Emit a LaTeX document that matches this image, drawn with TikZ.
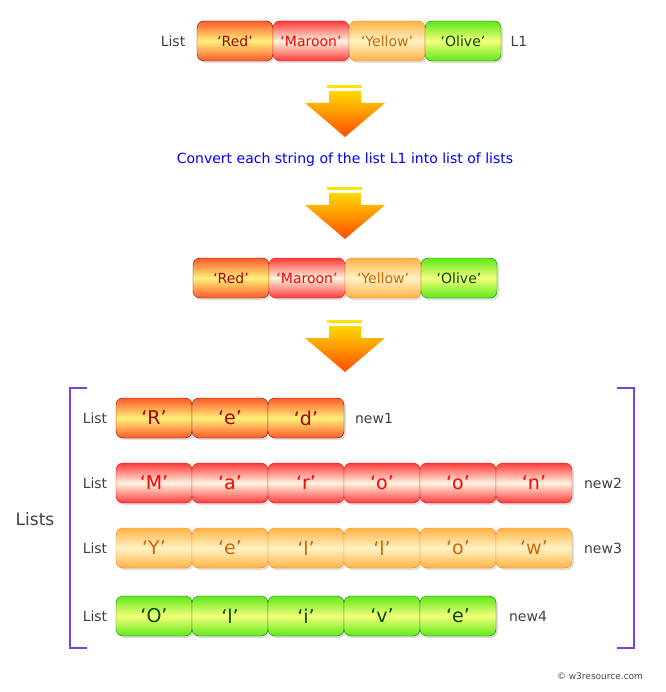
\documentclass[tikz,border=0pt]{standalone}
\usepackage{fontspec}
\setmainfont{DejaVu Sans}
\usetikzlibrary{shadows}
\definecolor{rtop}{HTML}{FF5A2A}
\definecolor{rmid}{HTML}{FFF07A}
\definecolor{mtop}{HTML}{FF3A3A}
\definecolor{mmid}{HTML}{FFF4E0}
\definecolor{ytop}{HTML}{FFB347}
\definecolor{ymid}{HTML}{FFF2C4}
\definecolor{gtop}{HTML}{5EE81A}
\definecolor{gmid}{HTML}{F4FF7A}
\definecolor{brc}{HTML}{7B3FE4}
\begin{document}
\begin{tikzpicture}[x=1pt,y=-1pt,
 cell/.style={rounded corners=7pt,minimum width=76pt,minimum height=40pt,inner sep=0pt,
   font=\fontsize{14}{14}\selectfont, drop shadow={opacity=0.25,shadow xshift=2pt,shadow yshift=-2pt}},
 big/.style={font=\fontsize{19}{19}\selectfont},
 red/.style={cell,draw=red!55!black,text=red!65!black,top color=rtop,bottom color=rtop,middle color=rmid},
 mar/.style={cell,draw=red,text=red,top color=mtop,bottom color=mtop,middle color=mmid},
 yel/.style={cell,draw=orange,text=orange!80!black,top color=ytop,bottom color=ytop,middle color=ymid},
 oli/.style={cell,draw=green!50!black,text=green!30!black,top color=gtop,bottom color=gtop,middle color=gmid},
 lbl/.style={text=black!75,font=\fontsize{14}{14}\selectfont,inner sep=0pt},
 br/.style={draw=brc,line width=1.5pt}]
\useasboundingbox (0,0) rectangle (665,692);
\newcommand{\arr}[2]{%
 \fill[yellow!85!orange] (#1-18,#2+2) rectangle (#1+17,#2+5);
 \shade[top color=yellow!70!orange,bottom color=orange!60!red] (#1-16,#2+8) -- (#1+16,#2+8) -- (#1+16,#2+20) -- (#1+40,#2+20) -- (#1,#2+54) -- (#1-40,#2+20) -- (#1-16,#2+20) -- cycle;}
% top row
\node[lbl] (l0) at (173,41) {List};
\node[red] (a1) at (235,41) {‘Red’};
\node[mar] (a2) at (311,41) {‘Maroon’};
\node[yel] (a3) at (387,41) {‘Yellow’};
\node[oli] (a4) at (463,41) {‘Olive’};
\node[lbl] (l1) at (519,41) {L1};
\arr{345}{83}
\node[text=blue,font=\fontsize{14}{14}\selectfont] (t) at (345,160) {Convert each string of the list L1 into list of lists};
\arr{345}{185}
\node[red] (b1) at (231,278) {‘Red’};
\node[mar] (b2) at (307,278) {‘Maroon’};
\node[yel] (b3) at (383,278) {‘Yellow’};
\node[oli] (b4) at (459,278) {‘Olive’};
\arr{345}{318}
% lists
\node[lbl] (r1) at (95,418) {List};
\node[red,big] (c1) at (154,418) {‘R’};
\node[red,big] (c2) at (230,418) {‘e’};
\node[red,big] (c3) at (306,418) {‘d’};
\node[lbl] (n1) at (374,418) {new1};
\node[lbl] (r2) at (95,483) {List};
\node[mar,big] (d1) at (154,483) {‘M’};
\node[mar,big] (d2) at (230,483) {‘a’};
\node[mar,big] (d3) at (306,483) {‘r’};
\node[mar,big] (d4) at (382,483) {‘o’};
\node[mar,big] (d5) at (458,483) {‘o’};
\node[mar,big] (d6) at (534,483) {‘n’};
\node[lbl] (n2) at (603,483) {new2};
\node[lbl] (r3) at (95,548) {List};
\node[yel,big] (e1) at (154,548) {‘Y’};
\node[yel,big] (e2) at (230,548) {‘e’};
\node[yel,big] (e3) at (306,548) {‘l’};
\node[yel,big] (e4) at (382,548) {‘l’};
\node[yel,big] (e5) at (458,548) {‘o’};
\node[yel,big] (e6) at (534,548) {‘w’};
\node[lbl] (n3) at (603,548) {new3};
\node[lbl] (r4) at (95,616) {List};
\node[oli,big] (f1) at (154,616) {‘O’};
\node[oli,big] (f2) at (230,616) {‘l’};
\node[oli,big] (f3) at (306,616) {‘i’};
\node[oli,big] (f4) at (382,616) {‘v’};
\node[oli,big] (f5) at (458,616) {‘e’};
\node[lbl] (n4) at (528,616) {new4};
\draw[br] (87,388) -- (70,388) -- (70,648) -- (87,648);
\draw[br] (617,388) -- (634,388) -- (634,648) -- (617,648);
\node[lbl,font=\fontsize{17}{17}\selectfont] (ls) at (35,519) {Lists};
\node[font=\fontsize{9}{9}\selectfont,text=black!70] (w3) at (600,676) {© w3resource.com};
\end{tikzpicture}
\end{document}
